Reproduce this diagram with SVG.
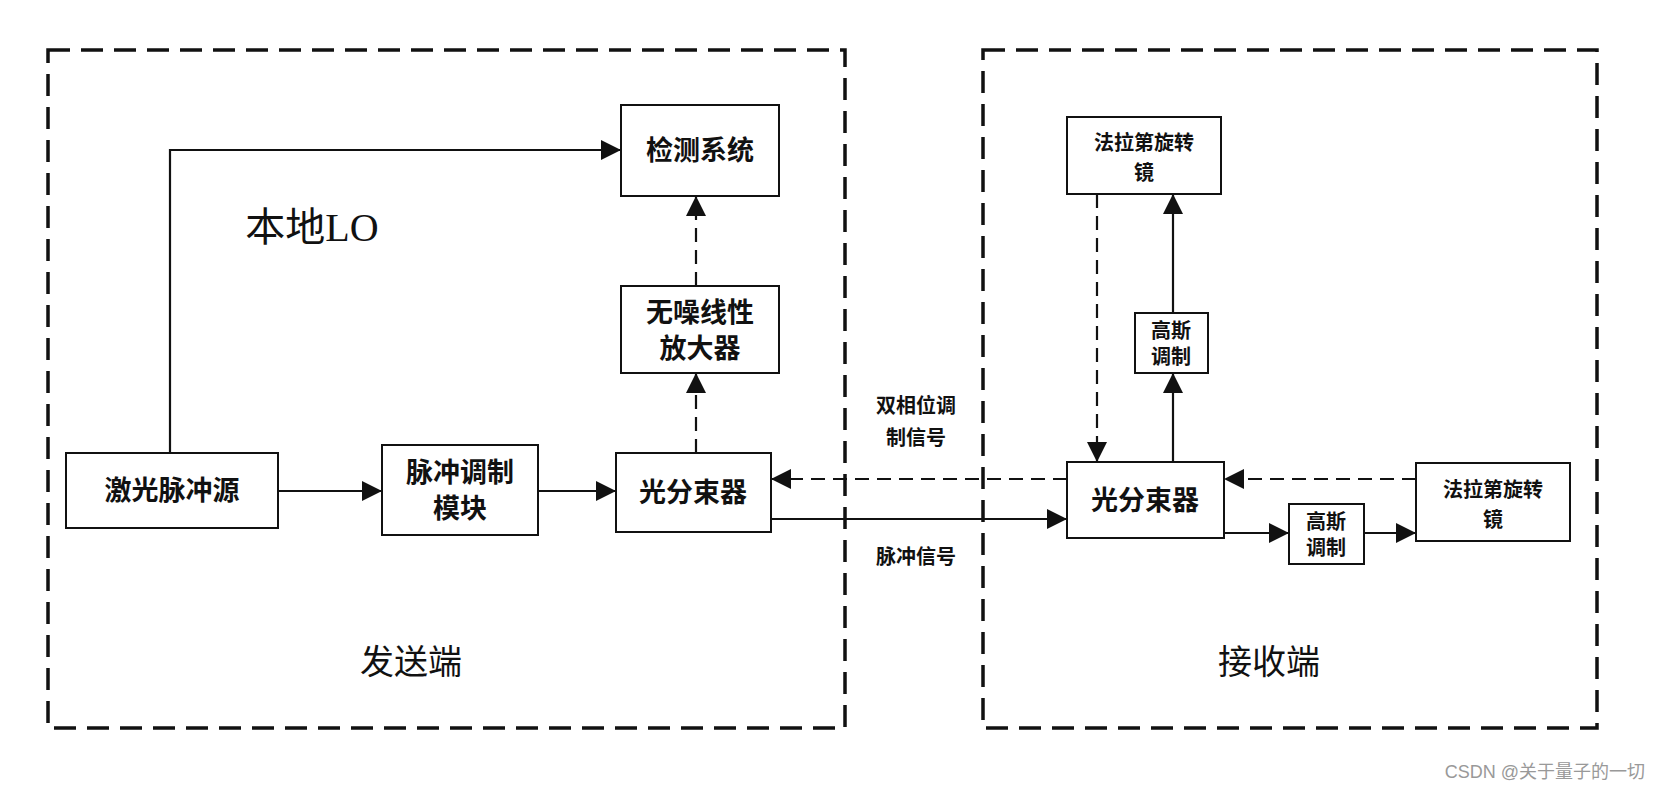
<svg xmlns="http://www.w3.org/2000/svg" width="1662" height="790" viewBox="0 0 1662 790">
<style>
.b{fill:#fff;stroke:#111;stroke-width:2}
.t{font-family:"Liberation Serif","Noto Sans CJK SC",serif;fill:#111;text-anchor:middle}
.c{stroke:#111;stroke-width:2.2;fill:none}
.d{stroke-dasharray:14,8}
</style>
<defs>
<marker id="m" viewBox="0 0 10 10" refX="10" refY="5" markerWidth="20" markerHeight="20" markerUnits="userSpaceOnUse" orient="auto"><path d="M0,0L10,5L0,10z" fill="#111"/></marker></defs>
<rect width="1662" height="790" fill="#fff"/>
<g id="frames" fill="none" stroke="#111" stroke-width="3.5" stroke-dasharray="22,11">
<rect x="48" y="50" width="797" height="678"/>
<rect x="983" y="50" width="614" height="678"/>
</g>
<g id="connectors">
<path class="c" d="M170,453V150H621" marker-end="url(#m)"/>
<path class="c" d="M278,491H382" marker-end="url(#m)"/>
<path class="c" d="M538,491H616" marker-end="url(#m)"/>
<path class="c d" d="M696,453V373" marker-end="url(#m)"/>
<path class="c d" d="M696,286V196" marker-end="url(#m)"/>
<path class="c d" d="M1067,479H771" marker-end="url(#m)"/>
<path class="c" d="M771,519H1067" marker-end="url(#m)"/>
<path class="c d" d="M1416,479H1224" marker-end="url(#m)"/>
<path class="c" d="M1224,533H1289" marker-end="url(#m)"/>
<path class="c" d="M1364,533H1416" marker-end="url(#m)"/>
<path class="c d" d="M1097,194V462" marker-end="url(#m)"/>
<path class="c" d="M1173,462V373" marker-end="url(#m)"/>
<path class="c" d="M1173,313V194" marker-end="url(#m)"/>
</g>
<g id="n1"><rect class="b" x="621" y="105" width="158" height="91"/><text class="t" x="700" y="160" font-size="27" font-weight="bold">检测系统</text></g>
<g id="n2"><rect class="b" x="621" y="286" width="158" height="87"/><text class="t" x="700" y="322" font-size="27" font-weight="bold">无噪线性</text><text class="t" x="700" y="358" font-size="27" font-weight="bold">放大器</text></g>
<g id="n3"><rect class="b" x="66" y="453" width="212" height="75"/><text class="t" x="172" y="500" font-size="27" font-weight="bold">激光脉冲源</text></g>
<g id="n4"><rect class="b" x="382" y="445" width="156" height="90"/><text class="t" x="460" y="482" font-size="27" font-weight="bold">脉冲调制</text><text class="t" x="460" y="518" font-size="27" font-weight="bold">模块</text></g>
<g id="n5"><rect class="b" x="616" y="453" width="155" height="79"/><text class="t" x="693" y="502" font-size="27" font-weight="bold">光分束器</text></g>
<g id="n6"><rect class="b" x="1067" y="462" width="157" height="76"/><text class="t" x="1145" y="510" font-size="27" font-weight="bold">光分束器</text></g>
<g id="n7"><rect class="b" x="1067" y="117" width="154" height="77"/><text class="t" x="1144" y="150" font-size="20" font-weight="bold">法拉第旋转</text><text class="t" x="1144" y="180" font-size="20" font-weight="bold">镜</text></g>
<g id="n8"><rect class="b" x="1135" y="313" width="73" height="60"/><text class="t" x="1171" y="338" font-size="20" font-weight="bold">高斯</text><text class="t" x="1171" y="364" font-size="20" font-weight="bold">调制</text></g>
<g id="n9"><rect class="b" x="1289" y="504" width="75" height="60"/><text class="t" x="1326" y="529" font-size="20" font-weight="bold">高斯</text><text class="t" x="1326" y="555" font-size="20" font-weight="bold">调制</text></g>
<g id="n10"><rect class="b" x="1416" y="463" width="154" height="78"/><text class="t" x="1493" y="497" font-size="20" font-weight="bold">法拉第旋转</text><text class="t" x="1493" y="527" font-size="20" font-weight="bold">镜</text></g>
<g id="labels">
<text class="t" x="312" y="241" font-size="40">本地LO</text>
<text class="t" x="916" y="413" font-size="20" font-weight="bold">双相位调</text>
<text class="t" x="916" y="445" font-size="20" font-weight="bold">制信号</text>
<text class="t" x="916" y="564" font-size="20" font-weight="bold">脉冲信号</text>
<text class="t" x="411" y="674" font-size="34">发送端</text>
<text class="t" x="1269" y="674" font-size="34">接收端</text>
<text x="1645" y="778" font-size="18" fill="#999" text-anchor="end" font-family="Liberation Sans,Noto Sans CJK SC,sans-serif">CSDN @关于量子的一切</text>
</g>
</svg>
